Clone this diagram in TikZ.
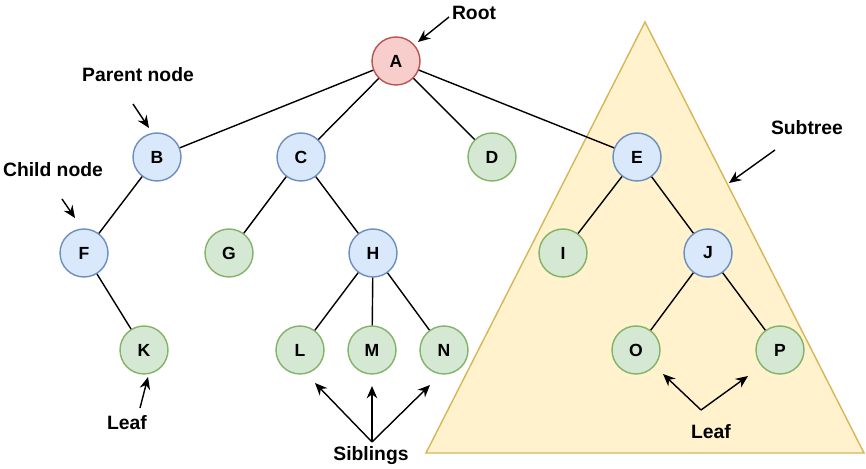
\documentclass[tikz,border=0pt]{standalone}
\usepackage{fontspec}
\setmainfont{Liberation Sans}
\usetikzlibrary{arrows.meta}
\definecolor{redF}{HTML}{F8CECC}\definecolor{redD}{HTML}{B85450}
\definecolor{bluF}{HTML}{DAE8FC}\definecolor{bluD}{HTML}{6C8EBF}
\definecolor{grnF}{HTML}{D5E8D4}\definecolor{grnD}{HTML}{82B366}
\definecolor{yelF}{HTML}{FFF2CC}\definecolor{yelD}{HTML}{D6B656}
\begin{document}
\begin{tikzpicture}[x=0.02cm,y=-0.02cm,
  tn/.style={circle,thick,minimum size=0.96cm,inner sep=0pt,font=\bfseries\fontsize{10}{12}\selectfont},
  rt/.style={tn,fill=redF,draw=redD},
  bl/.style={tn,fill=bluF,draw=bluD},
  gr/.style={tn,fill=grnF,draw=grnD},
  lbl/.style={font=\bfseries\fontsize{11}{13}\selectfont},
  edge/.style={thick},
  arr/.style={thick,-{Stealth[length=7pt,width=6pt]}}]
\useasboundingbox (0,0) rectangle (866,469);
% subtree
\filldraw[fill=yelF,draw=yelD,thick] (645,22) -- (864,453) -- (426,453) -- cycle;
% nodes
\node[rt] (A) at (396,61) {A};
\node[bl] (B) at (157,157) {B};
\node[bl] (C) at (301,157) {C};
\node[gr] (D) at (492,157) {D};
\node[bl] (E) at (637,157) {E};
\node[bl] (F) at (84,253) {F};
\node[gr] (G) at (229,253) {G};
\node[bl] (H) at (373,253) {H};
\node[gr] (I) at (563,253) {I};
\node[bl] (J) at (708,253) {J};
\node[gr] (K) at (144,350) {K};
\node[gr] (L) at (300,350) {L};
\node[gr] (M) at (372,350) {M};
\node[gr] (N) at (444,350) {N};
\node[gr] (O) at (636,350) {O};
\node[gr] (P) at (780,350) {P};
% edges
\foreach \a/\b in {A/B,A/C,A/D,A/E,B/F,C/G,C/H,E/I,E/J,F/K,H/L,H/M,H/N,J/O,J/P}
  \draw[edge] (\a) -- (\b);
% labels
\node[lbl] (root) at (474,13) {Root};
\node[lbl] (par) at (138,75) {Parent node};
\node[lbl] (chi) at (53,170) {Child node};
\node[lbl] (sub) at (807,128) {Subtree};
\node[lbl] (leaf1) at (127,423) {Leaf};
\node[lbl] (sib) at (371,456) {Siblings};
\node[lbl] (leaf2) at (711,432) {Leaf};
\coordinate (sibS) at (372,442);
\coordinate (leafS) at (701,410);
\draw[arr] (449,17) -- (418,42);
\draw[arr] (133,104) -- (149,128);
\draw[arr] (62,199) -- (75,218);
\draw[arr] (775,150) -- (729,183);
\draw[arr] (140,408) -- (148,377);
\draw[arr] (sibS) -- (315,383);
\draw[arr] (sibS) -- (372,386);
\draw[arr] (sibS) -- (430,385);
\draw[arr] (leafS) -- (663,374);
\draw[arr] (leafS) -- (748,376);
\end{tikzpicture}
\end{document}
